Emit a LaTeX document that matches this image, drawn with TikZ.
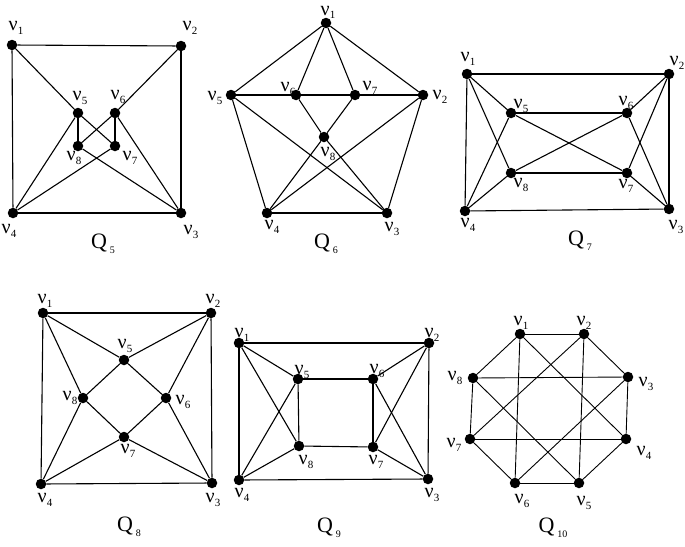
\documentclass[tikz,border=0pt]{standalone}
\usepackage{fontspec}
\setmainfont{Liberation Serif}
\newcommand{\nvl}[1]{\fontsize{20}{20}\selectfont ν\raisebox{-0.4ex}{\fontsize{11}{11}\selectfont #1}}
\newcommand{\qcap}[1]{\fontsize{22}{22}\selectfont Q\hspace{3pt}\raisebox{-0.5ex}{\fontsize{10}{10}\selectfont #1}}
\tikzset{
  vtx/.style={circle,fill=black,inner sep=0pt,minimum size=10.5pt},
  lbl/.style={inner sep=0pt},
  edge/.style={line width=1.1pt},
  thinedge/.style={line width=0.9pt},
  capt/.style={inner sep=0pt}
}
\begin{document}
\begin{tikzpicture}[x=1pt,y=-1pt]
\useasboundingbox (0,0) rectangle (685,546);
% ---------- Q5 ----------
\node[vtx] (a1) at (12,45) {};
\node[vtx] (a2) at (181,46) {};
\node[vtx] (a3) at (181,213) {};
\node[vtx] (a4) at (13,213) {};
\node[vtx] (a5) at (78,113) {};
\node[vtx] (a6) at (115,113) {};
\node[vtx] (a7) at (115,146) {};
\node[vtx] (a8) at (78,146) {};
\foreach \u/\v in {1/2,2/3,3/4,4/1,1/5,2/6,5/8,6/7,5/4,5/7,6/8,6/3,7/4,8/3}
  \draw[edge] (a\u) -- (a\v);
\node[lbl] (la1) at (16,28) {\nvl{1}};
\node[lbl] (la2) at (190,28) {\nvl{2}};
\node[lbl] (la3) at (191,232) {\nvl{3}};
\node[lbl] (la4) at (9,231) {\nvl{4}};
\node[lbl] (la5) at (80,98) {\nvl{5}};
\node[lbl] (la6) at (118,97) {\nvl{6}};
\node[lbl] (la7) at (130,158) {\nvl{7}};
\node[lbl] (la8) at (74,158) {\nvl{8}};
\node[capt] (qa) at (103,244) {\qcap{5}};
% ---------- Q6 ----------
\node[vtx] (b1) at (326,23) {};
\node[vtx] (b2) at (423,95) {};
\node[vtx] (b3) at (387,213) {};
\node[vtx] (b4) at (267,213) {};
\node[vtx] (b5) at (231,95) {};
\node[vtx] (b6) at (296,95) {};
\node[vtx] (b7) at (355,95) {};
\node[vtx] (b8) at (324,137) {};
\foreach \u/\v in {1/5,1/6,1/7,1/2,5/6,6/7,7/2,6/8,7/8,8/4,8/3,5/4,5/3,2/4,2/3,4/3}
  \draw[edge] (b\u) -- (b\v);
\node[lbl] (lb1) at (328,12.5) {\nvl{1}};
\node[lbl] (lb2) at (440,97) {\nvl{2}};
\node[lbl] (lb3) at (392,229) {\nvl{3}};
\node[lbl] (lb4) at (272,227) {\nvl{4}};
\node[lbl] (lb5) at (215,98) {\nvl{5}};
\node[lbl] (lb6) at (288,89) {\nvl{6}};
\node[lbl] (lb7) at (370,88) {\nvl{7}};
\node[lbl] (lb8) at (328,154) {\nvl{8}};
\node[capt] (qb) at (326,244) {\qcap{6}};
% ---------- Q7 ----------
\node[vtx] (c1) at (467,74) {};
\node[vtx] (c2) at (669,74) {};
\node[vtx] (c3) at (669,209) {};
\node[vtx] (c4) at (465,211) {};
\node[vtx] (c5) at (511,113) {};
\node[vtx] (c6) at (627,113) {};
\node[vtx] (c7) at (627,173) {};
\node[vtx] (c8) at (511,173) {};
\foreach \u/\v in {1/2,2/3,3/4,4/1,1/5,1/8,5/6,5/7,5/4,8/6,8/7,8/4,6/2,6/3,7/2,7/3}
  \draw[edge] (c\u) -- (c\v);
\node[lbl] (lc1) at (468,59) {\nvl{1}};
\node[lbl] (lc2) at (677,63) {\nvl{2}};
\node[lbl] (lc3) at (676,227) {\nvl{3}};
\node[lbl] (lc4) at (468,225) {\nvl{4}};
\node[lbl] (lc5) at (521,106) {\nvl{5}};
\node[lbl] (lc6) at (626,103) {\nvl{6}};
\node[lbl] (lc7) at (626,186) {\nvl{7}};
\node[lbl] (lc8) at (521,185) {\nvl{8}};
\node[capt] (qc) at (580,241) {\qcap{7}};
% ---------- Q8 ----------
\node[vtx] (d1) at (43,313) {};
\node[vtx] (d2) at (211,313) {};
\node[vtx] (d3) at (212,483) {};
\node[vtx] (d4) at (41,484) {};
\node[vtx] (d5) at (124,360) {};
\node[vtx] (d6) at (166,398) {};
\node[vtx] (d7) at (124,437) {};
\node[vtx] (d8) at (83,398) {};
\foreach \u/\v in {1/2,2/3,3/4,4/1,1/5,5/2,1/8,2/6,8/4,6/3,4/7,7/3,5/8,5/6,8/7,6/7}
  \draw[edge] (d\u) -- (d\v);
\node[lbl] (ld1) at (45,301) {\nvl{1}};
\node[lbl] (ld2) at (213,301) {\nvl{2}};
\node[lbl] (ld3) at (213,500) {\nvl{3}};
\node[lbl] (ld4) at (45,500) {\nvl{4}};
\node[lbl] (ld5) at (125,346) {\nvl{5}};
\node[lbl] (ld6) at (183,402) {\nvl{6}};
\node[lbl] (ld7) at (128,451) {\nvl{7}};
\node[lbl] (ld8) at (70,398) {\nvl{8}};
\node[capt] (qd) at (129,527) {\qcap{8}};
% ---------- Q9 ----------
\node[vtx] (e1) at (239,343) {};
\node[vtx] (e2) at (429,343) {};
\node[vtx] (e3) at (428,479) {};
\node[vtx] (e4) at (239,480) {};
\node[vtx] (e5) at (298,379) {};
\node[vtx] (e6) at (373,379) {};
\node[vtx] (e7) at (373,447) {};
\node[vtx] (e8) at (299,446) {};
\foreach \u/\v in {1/2,2/3,3/4,4/1,5/6,6/7,7/8,8/5,1/5,1/8,4/5,4/8,2/6,2/7,3/6,3/7}
  \draw[edge] (e\u) -- (e\v);
\node[lbl] (le1) at (242,335) {\nvl{1}};
\node[lbl] (le2) at (432,335) {\nvl{2}};
\node[lbl] (le3) at (432,495) {\nvl{3}};
\node[lbl] (le4) at (242,495) {\nvl{4}};
\node[lbl] (le5) at (302,372) {\nvl{5}};
\node[lbl] (le6) at (377,371) {\nvl{6}};
\node[lbl] (le7) at (376,462) {\nvl{7}};
\node[lbl] (le8) at (306,462) {\nvl{8}};
\node[capt] (qe) at (329,528) {\qcap{9}};
% ---------- Q10 ----------
\node[vtx] (f1) at (520,334) {};
\node[vtx] (f2) at (584,334) {};
\node[vtx] (f3) at (628,377) {};
\node[vtx] (f4) at (626,439) {};
\node[vtx] (f5) at (579,483) {};
\node[vtx] (f6) at (515,483) {};
\node[vtx] (f7) at (470,439) {};
\node[vtx] (f8) at (473,378) {};
\foreach \u/\v in {1/2,2/3,3/4,4/5,5/6,6/7,7/8,8/1,1/6,1/4,2/5,2/7,8/3,8/5,7/4,3/6}
  \draw[thinedge] (f\u) -- (f\v);
\node[lbl] (lf1) at (521,323) {\nvl{1}};
\node[lbl] (lf2) at (584,323) {\nvl{2}};
\node[lbl] (lf3) at (646,384) {\nvl{3}};
\node[lbl] (lf4) at (644,453) {\nvl{4}};
\node[lbl] (lf5) at (584,503) {\nvl{5}};
\node[lbl] (lf6) at (522,501) {\nvl{6}};
\node[lbl] (lf7) at (454,445) {\nvl{7}};
\node[lbl] (lf8) at (455,378) {\nvl{8}};
\node[capt] (qf) at (553,528) {\qcap{10}};
\end{tikzpicture}
\end{document}
